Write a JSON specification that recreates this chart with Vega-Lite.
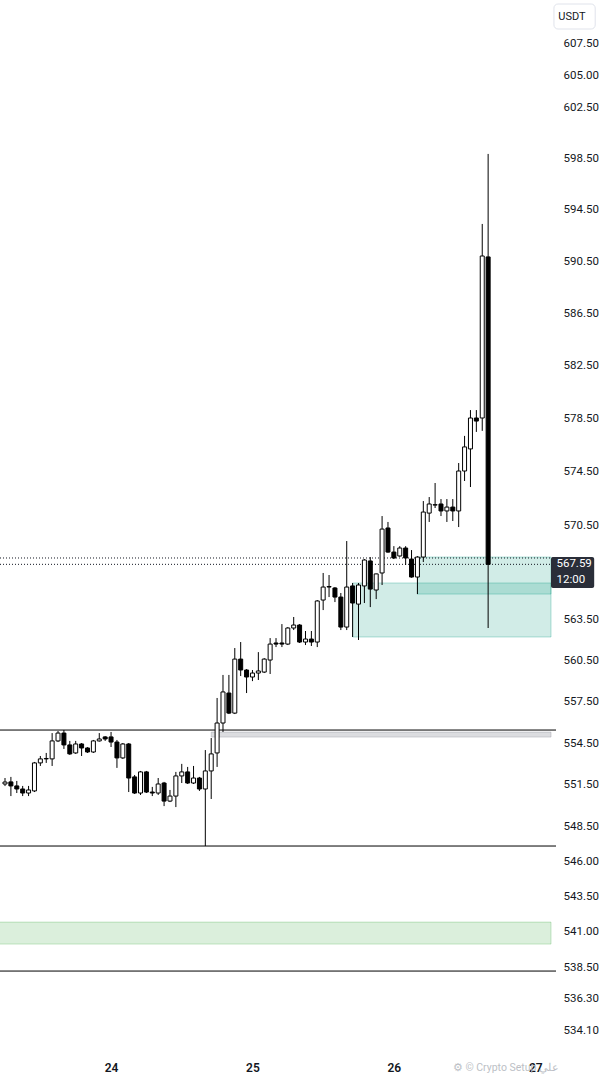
{
  "$schema": "https://vega.github.io/schema/vega-lite/v6.json",
  "width": 556,
  "height": 1052,
  "autosize": {"type": "none"},
  "padding": {"left": 0, "top": 0, "right": 51, "bottom": 28},
  "background": "white",
  "config": {
    "view": {"stroke": null},
    "font": "Roboto",
    "axis": {"grid": false, "ticks": false, "domain": false, "title": null}
  },
  "datasets": {
    "candles": [
      {"t": -18, "open": 551.54, "high": 551.97, "low": 551.39, "close": 551.68},
      {"t": -17, "open": 551.69, "high": 552.05, "low": 550.67, "close": 551.40},
      {"t": -16, "open": 551.40, "high": 551.76, "low": 550.89, "close": 551.18},
      {"t": -15, "open": 551.18, "high": 551.40, "low": 550.67, "close": 550.89},
      {"t": -14, "open": 550.89, "high": 551.40, "low": 550.67, "close": 551.11},
      {"t": -13, "open": 551.04, "high": 553.13, "low": 550.96, "close": 553.06},
      {"t": -12, "open": 553.06, "high": 553.56, "low": 552.84, "close": 553.35},
      {"t": -11, "open": 553.35, "high": 553.78, "low": 553.06, "close": 553.38},
      {"t": -10, "open": 553.35, "high": 555.22, "low": 552.84, "close": 554.65},
      {"t": -9, "open": 554.65, "high": 555.37, "low": 554.57, "close": 555.22},
      {"t": -8, "open": 555.22, "high": 555.44, "low": 554.07, "close": 554.36},
      {"t": -7, "open": 554.36, "high": 554.65, "low": 553.64, "close": 553.71},
      {"t": -6, "open": 553.78, "high": 554.65, "low": 553.71, "close": 554.43},
      {"t": -5, "open": 554.43, "high": 554.50, "low": 553.56, "close": 554.14},
      {"t": -4, "open": 554.14, "high": 554.20, "low": 553.78, "close": 553.85},
      {"t": -3, "open": 553.85, "high": 554.72, "low": 553.78, "close": 554.65},
      {"t": -2, "open": 554.65, "high": 555.22, "low": 554.60, "close": 554.79},
      {"t": -1, "open": 554.94, "high": 555.00, "low": 554.65, "close": 554.79},
      {"t": 0, "open": 554.94, "high": 555.30, "low": 554.21, "close": 554.57},
      {"t": 1, "open": 554.57, "high": 554.72, "low": 552.70, "close": 553.42},
      {"t": 2, "open": 553.42, "high": 554.50, "low": 553.35, "close": 554.43},
      {"t": 3, "open": 554.43, "high": 554.50, "low": 550.96, "close": 551.97},
      {"t": 4, "open": 552.05, "high": 552.19, "low": 550.82, "close": 550.89},
      {"t": 5, "open": 550.89, "high": 552.48, "low": 550.75, "close": 552.41},
      {"t": 6, "open": 552.41, "high": 552.48, "low": 550.89, "close": 550.96},
      {"t": 7, "open": 550.96, "high": 551.33, "low": 550.67, "close": 550.89},
      {"t": 8, "open": 550.89, "high": 551.97, "low": 550.75, "close": 551.54},
      {"t": 9, "open": 551.61, "high": 551.69, "low": 549.95, "close": 550.31},
      {"t": 10, "open": 550.31, "high": 551.11, "low": 550.24, "close": 550.67},
      {"t": 11, "open": 550.67, "high": 552.41, "low": 549.88, "close": 552.12},
      {"t": 12, "open": 552.12, "high": 552.99, "low": 551.61, "close": 552.41},
      {"t": 13, "open": 552.41, "high": 552.77, "low": 551.54, "close": 551.61},
      {"t": 14, "open": 551.61, "high": 552.84, "low": 551.54, "close": 551.97},
      {"t": 15, "open": 551.97, "high": 552.05, "low": 551.04, "close": 551.18},
      {"t": 16, "open": 551.18, "high": 553.99, "low": 547.09, "close": 552.48},
      {"t": 17, "open": 552.48, "high": 554.86, "low": 550.46, "close": 553.71},
      {"t": 18, "open": 553.78, "high": 557.77, "low": 552.77, "close": 555.95},
      {"t": 19, "open": 555.95, "high": 559.45, "low": 555.30, "close": 558.21},
      {"t": 20, "open": 558.13, "high": 559.45, "low": 556.60, "close": 556.67},
      {"t": 21, "open": 556.67, "high": 561.42, "low": 556.60, "close": 560.61},
      {"t": 22, "open": 560.61, "high": 561.86, "low": 559.37, "close": 559.81},
      {"t": 23, "open": 559.81, "high": 559.88, "low": 558.13, "close": 559.30},
      {"t": 24, "open": 559.30, "high": 559.81, "low": 559.00, "close": 559.59},
      {"t": 25, "open": 559.59, "high": 561.12, "low": 559.08, "close": 559.74},
      {"t": 26, "open": 559.66, "high": 560.68, "low": 559.59, "close": 560.61},
      {"t": 27, "open": 560.54, "high": 562.15, "low": 559.52, "close": 561.71},
      {"t": 28, "open": 561.79, "high": 562.15, "low": 561.49, "close": 561.71},
      {"t": 29, "open": 561.79, "high": 563.18, "low": 561.49, "close": 561.71},
      {"t": 30, "open": 561.71, "high": 562.96, "low": 561.64, "close": 562.89},
      {"t": 31, "open": 562.89, "high": 563.70, "low": 562.74, "close": 563.11},
      {"t": 32, "open": 563.11, "high": 563.18, "low": 561.79, "close": 561.86},
      {"t": 33, "open": 561.86, "high": 562.67, "low": 561.64, "close": 562.08},
      {"t": 34, "open": 562.08, "high": 562.67, "low": 561.57, "close": 561.86},
      {"t": 35, "open": 561.86, "high": 564.95, "low": 561.49, "close": 564.88},
      {"t": 36, "open": 564.95, "high": 566.95, "low": 564.21, "close": 565.91},
      {"t": 37, "open": 565.91, "high": 566.80, "low": 565.17, "close": 565.95},
      {"t": 38, "open": 565.84, "high": 565.91, "low": 564.80, "close": 565.17},
      {"t": 39, "open": 565.17, "high": 565.47, "low": 562.74, "close": 562.96},
      {"t": 40, "open": 562.96, "high": 569.32, "low": 562.74, "close": 565.91},
      {"t": 41, "open": 565.99, "high": 566.21, "low": 562.23, "close": 564.73},
      {"t": 42, "open": 564.65, "high": 566.21, "low": 562.01, "close": 566.06},
      {"t": 43, "open": 565.99, "high": 567.98, "low": 564.73, "close": 567.91},
      {"t": 44, "open": 567.84, "high": 568.13, "low": 564.43, "close": 565.76},
      {"t": 45, "open": 565.69, "high": 566.90, "low": 565.02, "close": 566.88},
      {"t": 46, "open": 566.95, "high": 571.18, "low": 566.06, "close": 570.21},
      {"t": 47, "open": 570.29, "high": 570.74, "low": 568.45, "close": 568.50},
      {"t": 48, "open": 568.50, "high": 568.94, "low": 567.98, "close": 568.06},
      {"t": 49, "open": 568.21, "high": 568.94, "low": 568.15, "close": 568.80},
      {"t": 50, "open": 568.80, "high": 568.94, "low": 567.54, "close": 568.06},
      {"t": 51, "open": 567.98, "high": 568.65, "low": 566.60, "close": 566.65},
      {"t": 52, "open": 566.65, "high": 568.20, "low": 565.39, "close": 568.13},
      {"t": 53, "open": 568.13, "high": 572.30, "low": 567.76, "close": 571.48},
      {"t": 54, "open": 571.40, "high": 572.60, "low": 570.74, "close": 572.08},
      {"t": 55, "open": 572.00, "high": 573.65, "low": 571.78, "close": 572.03},
      {"t": 56, "open": 572.08, "high": 572.45, "low": 571.18, "close": 571.56},
      {"t": 57, "open": 571.56, "high": 572.45, "low": 570.74, "close": 571.85},
      {"t": 58, "open": 571.85, "high": 572.45, "low": 570.81, "close": 571.56},
      {"t": 59, "open": 571.56, "high": 575.15, "low": 570.36, "close": 574.55},
      {"t": 60, "open": 574.55, "high": 577.19, "low": 573.80, "close": 576.36},
      {"t": 61, "open": 576.21, "high": 579.14, "low": 573.35, "close": 578.54},
      {"t": 62, "open": 578.54, "high": 579.14, "low": 577.49, "close": 578.31},
      {"t": 63, "open": 578.54, "high": 593.39, "low": 577.57, "close": 590.91},
      {"t": 64, "open": 590.84, "high": 598.84, "low": 562.89, "close": 567.59}
    ],
    "zones": [
      {"kind": "green", "start": -19, "end": 74.67, "top": 541.68, "bottom": 540.13},
      {"kind": "grey", "start": 17, "end": 74.67, "top": 555.29, "bottom": 554.93},
      {"kind": "teal", "start": 41, "end": 74.67, "top": 566.21, "bottom": 562.23},
      {"kind": "teal", "start": 52, "end": 74.67, "top": 568.13, "bottom": 565.39}
    ],
    "levels": [
      {"kind": "solid", "price": 555.44},
      {"kind": "solid", "price": 547.09},
      {"kind": "solid", "price": 538.23},
      {"kind": "dotted", "price": 568.06},
      {"kind": "dotted", "price": 567.59}
    ],
    "boxes": [
      {"kind": "price", "start": 74.67, "end": 82.0, "top": 568.13, "bottom": 565.84},
      {"kind": "unit", "start": 75.17, "end": 82.17, "top": 610.68, "bottom": 608.69}
    ],
    "labels": [
      {"kind": "price", "t": 75.6, "price": 567.59, "text": "567.59"},
      {"kind": "price", "t": 75.6, "price": 566.45, "text": "12:00"},
      {"kind": "unit", "t": 75.9, "price": 609.66, "text": "USDT"},
      {"kind": "mark", "t": 58, "price": 531.45, "text": "⚙ © Crypto Setup علي"}
    ]
  },
  "encoding": {
    "x": {
      "type": "quantitative",
      "scale": {"domain": [-18, 74.67], "nice": false, "zero": false}
    }
  },
  "layer": [
    {
      "data": {"name": "zones"},
      "transform": [{"filter": "datum.kind == 'green'"}],
      "mark": {"type": "rect", "fill": "#4caf50", "fillOpacity": 0.2, "stroke": "#4caf50", "strokeOpacity": 0.3, "strokeWidth": 1},
      "encoding": {
        "x": {"field": "start", "type": "quantitative"},
        "x2": {"field": "end"},
        "y": {"field": "top", "type": "quantitative"},
        "y2": {"field": "bottom"}
      }
    },
    {
      "data": {"name": "zones"},
      "transform": [{"filter": "datum.kind == 'grey'"}],
      "mark": {"type": "rect", "fill": "#9598a1", "fillOpacity": 0.33, "stroke": "#9598a1", "strokeOpacity": 0.4, "strokeWidth": 1},
      "encoding": {
        "x": {"field": "start", "type": "quantitative"},
        "x2": {"field": "end"},
        "y": {"field": "top", "type": "quantitative"},
        "y2": {"field": "bottom"}
      }
    },
    {
      "data": {"name": "zones"},
      "transform": [{"filter": "datum.kind == 'teal'"}],
      "mark": {"type": "rect", "fill": "#089981", "fillOpacity": 0.19, "stroke": "#089981", "strokeOpacity": 0.3, "strokeWidth": 1},
      "encoding": {
        "x": {"field": "start", "type": "quantitative"},
        "x2": {"field": "end"},
        "y": {"field": "top", "type": "quantitative"},
        "y2": {"field": "bottom"}
      }
    },
    {
      "data": {"name": "levels"},
      "transform": [{"filter": "datum.kind == 'solid'"}],
      "mark": {"type": "rule", "color": "#000000", "strokeWidth": 1},
      "encoding": {
        "y": {"field": "price", "type": "quantitative"}
      }
    },
    {
      "data": {"name": "levels"},
      "transform": [{"filter": "datum.kind == 'dotted'"}],
      "mark": {"type": "rule", "color": "#131722", "strokeWidth": 1, "strokeDash": [1, 2]},
      "encoding": {
        "y": {"field": "price", "type": "quantitative"}
      }
    },
    {
      "data": {"name": "candles"},
      "mark": {"type": "rule", "color": "#000000", "strokeWidth": 1},
      "encoding": {
        "x": {
          "field": "t",
          "type": "quantitative",
          "axis": {
            "orient": "bottom",
            "values": [0, 24, 48, 72],
            "labelExpr": "'' + (24 + datum.value / 24)",
            "labelFontSize": 12,
            "labelFontWeight": 600,
            "labelColor": "#131722",
            "labelPadding": 10,
            "labelFlush": false
          }
        },
        "y": {
          "field": "low",
          "type": "quantitative",
          "scale": {"type": "log", "domain": [532.57, 611.0], "nice": false, "zero": false},
          "axis": {
            "orient": "right",
            "values": [607.5, 605, 602.5, 598.5, 594.5, 590.5, 586.5, 582.5, 578.5, 574.5, 570.5, 563.5, 560.5, 557.5, 554.5, 551.5, 548.5, 546, 543.5, 541, 538.5, 536.3, 534.1],
            "format": ".2f",
            "labelFontSize": 11.5,
            "labelColor": "#131722",
            "labelPadding": 7,
            "labelOverlap": false,
            "labelFlush": false
          }
        },
        "y2": {"field": "high"}
      }
    },
    {
      "data": {"name": "candles"},
      "mark": {"type": "bar", "width": 4, "stroke": "#000000", "strokeWidth": 1},
      "encoding": {
        "x": {"field": "t", "type": "quantitative"},
        "y": {"field": "open", "type": "quantitative"},
        "y2": {"field": "close"},
        "fill": {
          "condition": {"test": "datum.close >= datum.open", "value": "#ffffff"},
          "value": "#000000"
        }
      }
    },
    {
      "data": {"name": "boxes"},
      "transform": [{"filter": "datum.kind == 'price'"}],
      "mark": {"type": "rect", "fill": "#2a2e39", "cornerRadius": 2},
      "encoding": {
        "x": {"field": "start", "type": "quantitative"},
        "x2": {"field": "end"},
        "y": {"field": "top", "type": "quantitative"},
        "y2": {"field": "bottom"}
      }
    },
    {
      "data": {"name": "boxes"},
      "transform": [{"filter": "datum.kind == 'unit'"}],
      "mark": {"type": "rect", "fill": "#ffffff", "stroke": "#e0e3eb", "strokeWidth": 1, "cornerRadius": 4},
      "encoding": {
        "x": {"field": "start", "type": "quantitative"},
        "x2": {"field": "end"},
        "y": {"field": "top", "type": "quantitative"},
        "y2": {"field": "bottom"}
      }
    },
    {
      "data": {"name": "labels"},
      "transform": [{"filter": "datum.kind == 'price'"}],
      "mark": {"type": "text", "align": "left", "baseline": "middle", "fontSize": 11.5, "color": "#ffffff"},
      "encoding": {
        "x": {"field": "t", "type": "quantitative"},
        "y": {"field": "price", "type": "quantitative"},
        "text": {"field": "text"}
      }
    },
    {
      "data": {"name": "labels"},
      "transform": [{"filter": "datum.kind == 'unit'"}],
      "mark": {"type": "text", "align": "left", "baseline": "middle", "fontSize": 11, "color": "#131722"},
      "encoding": {
        "x": {"field": "t", "type": "quantitative"},
        "y": {"field": "price", "type": "quantitative"},
        "text": {"field": "text"}
      }
    },
    {
      "data": {"name": "labels"},
      "transform": [{"filter": "datum.kind == 'mark'"}],
      "mark": {"type": "text", "align": "left", "baseline": "middle", "fontSize": 10.5, "color": "#bcbfc6"},
      "encoding": {
        "x": {"field": "t", "type": "quantitative"},
        "y": {"field": "price", "type": "quantitative"},
        "text": {"field": "text"}
      }
    }
  ]
}
